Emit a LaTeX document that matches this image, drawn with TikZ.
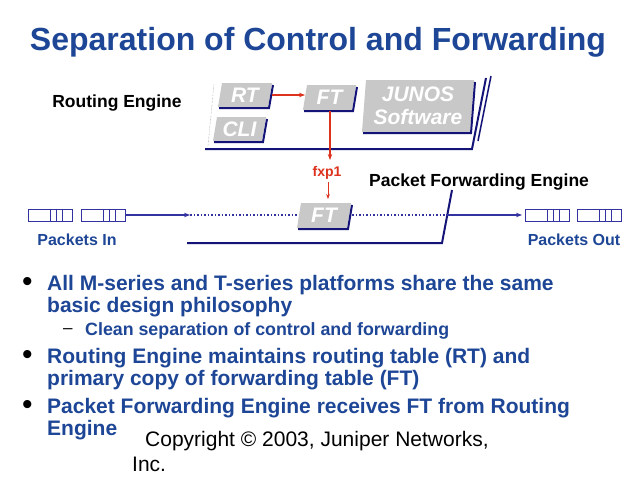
\documentclass[tikz,border=0pt]{standalone}
\usepackage{fontspec}
\setmainfont{Liberation Sans}
\usetikzlibrary{arrows.meta}
\definecolor{jblue}{RGB}{30,70,150}
\definecolor{dblue}{RGB}{20,20,120}
\definecolor{pblue}{RGB}{50,50,160}
\definecolor{jred}{RGB}{220,50,30}
\definecolor{boxg}{RGB}{200,200,200}
\tikzset{
  lbl/.style={font=\bfseries\fontsize{17.5}{20}\selectfont,inner sep=0},
  btxt/.style={font=\bfseries\fontsize{21}{24}\selectfont,text=jblue,anchor=west,inner sep=0},
  bul/.style={font=\fontsize{30}{30}\selectfont,anchor=west,inner sep=0},
  boxtxt/.style={font=\bfseries\itshape\fontsize{21}{23}\selectfont,text=white,inner sep=0,align=center},
  redarr/.style={draw=jred,line width=1.2pt,-{Stealth[length=6pt]}},
  plat/.style={draw=dblue,line width=2pt},
  pkt/.style={draw=pblue,line width=1pt,fill=white},
}
\newcommand{\slbox}[6]{% name x1 y1 x2 y2 text
  \fill[boxg] (#2+4,#3)--(#4+4,#3)--(#4,#5)--(#2,#5)--cycle;
  \draw[dblue,line width=2pt] (#2+1,#5+1)--(#4+1,#5+1)--(#4+5,#3+2);
  \node[boxtxt] (#1) at ({(#2+#4)/2+2},{(#3+#5)/2}) {#6};}
\newcommand{\pktic}[2]{% x y(center)
  \draw[pkt] (#1,#2-6) rectangle (#1+44,#2+6);
  \draw[pblue,line width=1pt] (#1+22,#2-6)--(#1+22,#2+6) (#1+28,#2-6)--(#1+28,#2+6) (#1+34,#2-6)--(#1+34,#2+6);}
\begin{document}
\begin{tikzpicture}[x=1pt,y=-1pt]
\useasboundingbox[fill=white] (0,0) rectangle (638,479);
\node[font=\bfseries\fontsize{32}{36}\selectfont,text=jblue,inner sep=0] (title) at (318,42) {Separation of Control and Forwarding};
% Routing engine platform
\node[lbl] (re) at (117,103) {Routing Engine};
\draw[plat] (205,149)--(472,149)--(486,78);
\draw[dblue,line width=1.5pt] (478,141)--(491,76);
\draw[gray,densely dotted] (208,146)--(214,84);
\slbox{rt}{218}{83}{268}{107}{RT}
\slbox{cli}{213}{117}{262}{141}{CLI}
\slbox{ftre}{303}{85}{352}{110}{FT}
\slbox{junos}{362}{80}{470}{132}{JUNOS\\Software}
\draw[redarr] (272,95)--(305,95);
\node[font=\bfseries\fontsize{14}{16}\selectfont,text=jred,inner sep=0] (fxp) at (327,173) {fxp1};
\draw[redarr] (330,111)--(330,160);
\draw[jred,line width=1pt,-{Stealth[length=5pt]}] (328,182)--(328,199);
% PFE
\node[lbl,anchor=west] (pfe) at (369,182) {Packet Forwarding Engine};
\draw[plat] (187,243)--(442,243)--(452,190);
\slbox{ftpfe}{297}{203}{347}{228}{FT}
\draw[pblue,line width=1.5pt,dotted] (190,215)--(297,215);
\draw[pblue,line width=1.5pt,dotted] (352,215)--(446,215);
\draw[pblue,line width=2pt,-{Stealth[length=6pt]}] (446,215)--(522,215);
\draw[pblue,line width=2pt,-{Stealth[length=6pt]}] (126,215)--(190,215);
\pktic{28}{215}\pktic{81}{215}
\pktic{525}{215}\pktic{577}{215}
\node[lbl,font=\bfseries\fontsize{16}{18}\selectfont,text=jblue] (pin) at (77,240) {Packets In};
\node[lbl,font=\bfseries\fontsize{16}{18}\selectfont,text=jblue] (pout) at (574,240) {Packets Out};
% bullets
\node[bul] (b1) at (22,284) {•};
\node[btxt] (t1) at (47,285) {All M-series and T-series platforms share the same};
\node[btxt] (t1b) at (47,307) {basic design philosophy};
\node[btxt,text=black,font=\fontsize{17}{18}\selectfont] (d1) at (63,331) {–};
\node[btxt,font=\bfseries\fontsize{17.8}{20}\selectfont] (s1) at (85,331) {Clean separation of control and forwarding};
\node[bul] (b2) at (22,357) {•};
\node[btxt] (t2) at (47,358) {Routing Engine maintains routing table (RT) and};
\node[btxt] (t2b) at (47,380) {primary copy of forwarding table (FT)};
\node[bul] (b3) at (22,407) {•};
\node[btxt] (t3) at (47,408) {Packet Forwarding Engine receives FT from Routing};
\node[btxt] (t3b) at (47,430) {Engine};
\node[anchor=west,inner sep=0,font=\fontsize{21}{24}\selectfont] (c1) at (145,441) {Copyright © 2003, Juniper Networks,};
\node[anchor=west,inner sep=0,font=\fontsize{21}{24}\selectfont] (c2) at (132,464) {Inc.};
\end{tikzpicture}
\end{document}
